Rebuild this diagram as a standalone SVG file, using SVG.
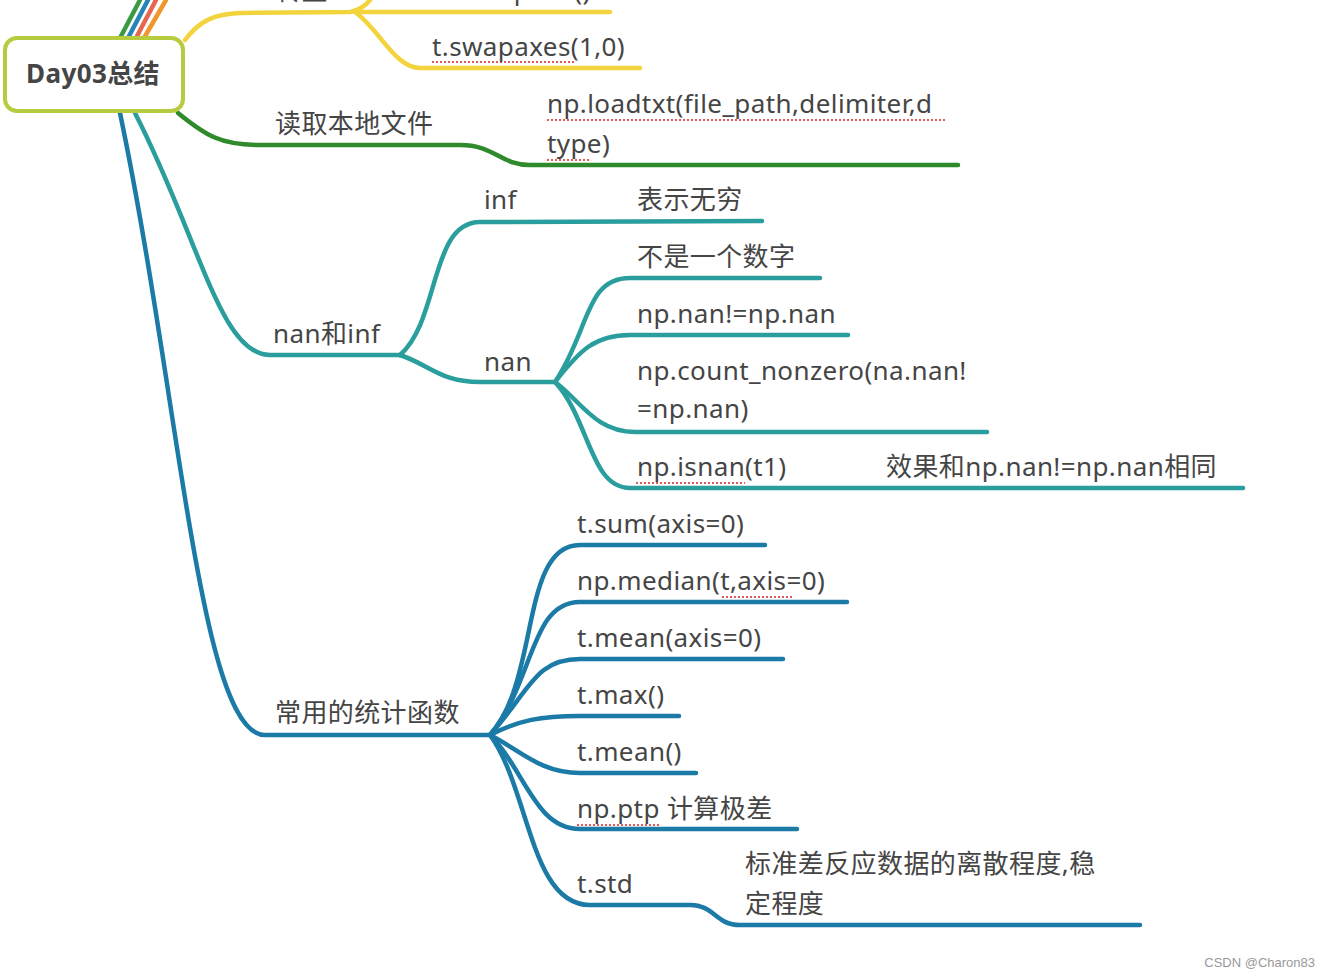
<svg xmlns="http://www.w3.org/2000/svg" width="1330" height="977" viewBox="0 0 1330 977">
<style>
.t{font-family:"Noto Sans","Noto Sans CJK SC",sans-serif;font-size:26px;letter-spacing:0.4px;fill:#454545}
.c{fill:none;stroke-linecap:round;stroke-width:4.5}
.y{stroke:#f3d43c}.g{stroke:#2f8a2c}.q{stroke:#2a9e9c}.b{stroke:#1b7aa6}
.u{fill:none;stroke:#e05a5a;stroke-width:2;stroke-dasharray:2 2}
</style>
<rect width="1330" height="977" fill="#ffffff"/>
<g id="connectors">
<path class="c" d="M120 38 L140 0" stroke="#3a9a44" stroke-width="5"/>
<path class="c" d="M128 38 L148 0" stroke="#2585b8" stroke-width="5"/>
<path class="c" d="M136 38 L156 0" stroke="#e6674f" stroke-width="5"/>
<path class="c" d="M144 38 L166 0" stroke="#f0962c" stroke-width="5"/>
<path class="c y" d="M185 40 C200 20 215 14 240 13 L350 12 C360 10 366 5 370 0"/>
<path class="c y" d="M355 12 L610 12"/>
<path class="c y" d="M355 12 C380 30 395 68 420 68 L640 68"/>
<path class="c g" d="M178 113 C205 135 220 145 260 145 L460 145 C495 145 500 165 530 165 L958 165" stroke-width="5"/>
<path class="c q" d="M135 113 C200 240 220 355 270 355 L400 355"/>
<path class="c q" d="M400 355 C440 320 430 222 480 222 L762 221"/>
<path class="c q" d="M400 355 C430 365 440 382 480 382 L555 382"/>
<path class="c q" d="M555 382 C590 330 585 278 630 278 L820 278"/>
<path class="c q" d="M555 382 C580 350 595 335 630 335 L848 335"/>
<path class="c q" d="M555 382 C580 400 595 432 635 432 L987 432"/>
<path class="c q" d="M555 382 C590 420 590 488 630 488 L1243 488"/>
<path class="c b" d="M120 113 C180 400 200 735 265 735 L490 735"/>
<path class="c b" d="M490 735 C540 680 520 545 580 545 L765 545"/>
<path class="c b" d="M490 735 C535 680 530 602 580 602 L847 602"/>
<path class="c b" d="M490 735 C530 690 535 659 580 659 L783 659"/>
<path class="c b" d="M490 735 C520 720 540 716 580 716 L679 716"/>
<path class="c b" d="M490 735 C520 750 540 773 580 773 L696 773"/>
<path class="c b" d="M490 735 C525 770 535 829 580 829 L797 829"/>
<path class="c b" d="M490 735 C530 790 530 905 590 905 L690 905 C715 905 715 925 740 925 L1140 925"/>
<path class="u" d="M432 62 H575 M547 120 H945 M547 160 H590 M636 483 H745 M722 597 H793 M577 825 H660"/>
</g>
<g id="root">
<rect x="5" y="38" width="178" height="73" rx="12" fill="#fff" stroke="#b6cc3e" stroke-width="4"/>
<text class="t" x="93" y="83" text-anchor="middle" font-size="22" font-weight="bold" fill="#555">Day03总结</text>
</g>
<g id="transpose"><text class="t" x="275" y="0">转置</text><text class="t" x="432" y="0">t.transpose()</text><text class="t" x="432" y="56">t.swapaxes(1,0)</text></g>
<g id="load"><text class="t" x="275" y="133">读取本地文件</text><text class="t" x="547" y="113">np.loadtxt(file_path,delimiter,d</text><text class="t" x="547" y="153">type)</text></g>
<g id="naninf"><text class="t" x="273" y="343">nan和inf</text><text class="t" x="484" y="209">inf</text><text class="t" x="637" y="209">表示无穷</text><text class="t" x="484" y="371">nan</text>
<text class="t" x="637" y="266">不是一个数字</text><text class="t" x="637" y="323">np.nan!=np.nan</text><text class="t" x="637" y="380">np.count_nonzero(na.nan!</text><text class="t" x="637" y="418">=np.nan)</text><text class="t" x="637" y="476">np.isnan(t1)</text><text class="t" x="886" y="476">效果和np.nan!=np.nan相同</text></g>
<g id="stats"><text class="t" x="275" y="722">常用的统计函数</text>
<text class="t" x="577" y="533">t.sum(axis=0)</text><text class="t" x="577" y="590">np.median(t,axis=0)</text><text class="t" x="577" y="647">t.mean(axis=0)</text><text class="t" x="577" y="704">t.max()</text><text class="t" x="577" y="761">t.mean()</text><text class="t" x="577" y="818">np.ptp 计算极差</text><text class="t" x="577" y="893">t.std</text><text class="t" x="745" y="873">标准差反应数据的离散程度,稳</text><text class="t" x="745" y="913">定程度</text></g>
<text x="1315" y="967" text-anchor="end" font-family="Liberation Sans,sans-serif" font-size="13" fill="#999">CSDN @Charon83</text>
</svg>
